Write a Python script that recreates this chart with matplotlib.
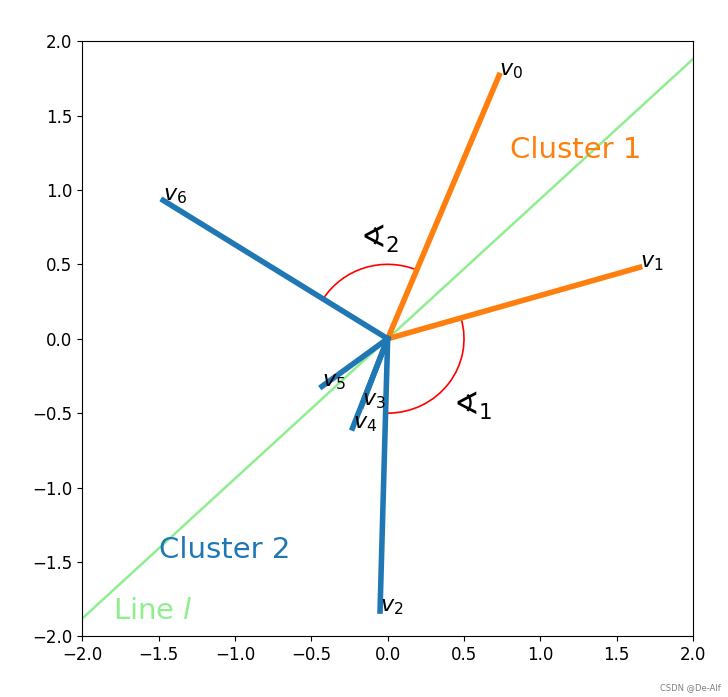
import numpy as np
import matplotlib
matplotlib.use("Agg")
import matplotlib.pyplot as plt
from matplotlib.patches import Arc

names = ["v_0", "v_1", "v_2", "v_3", "v_4", "v_5", "v_6"]
vx = [0.73, 1.65, -0.05, -0.17, -0.23, -0.43, -1.47]
vy = [1.77, 0.48, -1.83, -0.45, -0.60, -0.32, 0.93]
cluster = [1, 1, 2, 2, 2, 2, 2]
line_slope = 0.94

fig = plt.figure(figsize=(7.28, 6.97), dpi=100)
ax = fig.add_axes([0.113, 0.087, 0.839, 0.854])
ax.set_xlim(-2, 2); ax.set_ylim(-2, 2)
xs = np.array([-2, 2])
ax.plot(xs, line_slope * xs, color="lightgreen", lw=1.8, zorder=1)
for n, x, y, c in zip(names, vx, vy, cluster):
    col = "#ff7f0e" if c == 1 else "#1f77b4"
    ax.plot([0, x], [0, y], color=col, lw=4, zorder=2)
    ax.text(x, y + 0.03, f"${n}$", fontsize=16, va="center", ha="left")

a0 = np.degrees(np.arctan2(vy[0], vx[0]))
a1 = np.degrees(np.arctan2(vy[1], vx[1]))
a6 = np.degrees(np.arctan2(vy[6], vx[6]))
ax.add_patch(Arc((0, 0), 1.0, 1.0, theta1=-90, theta2=a1, color="red", lw=1.2))
ax.add_patch(Arc((0, 0), 1.0, 1.0, theta1=a0, theta2=a6, color="red", lw=1.2))
ax.text(-0.05, 0.56, r"$\sphericalangle_2$", fontsize=22, ha="center", va="bottom")
ax.text(0.56, -0.56, r"$\sphericalangle_1$", fontsize=22, ha="center", va="bottom")

ax.text(0.8, 1.27, "Cluster 1", color="#ff7f0e", fontsize=21, va="center")
ax.text(-1.5, -1.42, "Cluster 2", color="#1f77b4", fontsize=21, va="center")
ax.text(-1.8, -1.83, "Line $l$", color="lightgreen", fontsize=21, va="center")
ax.tick_params(labelsize=12)
fig.text(0.99, 0.01, "CSDN @De-Alf", fontsize=6, color="gray", ha="right")
fig.savefig("out.png", dpi=100)
